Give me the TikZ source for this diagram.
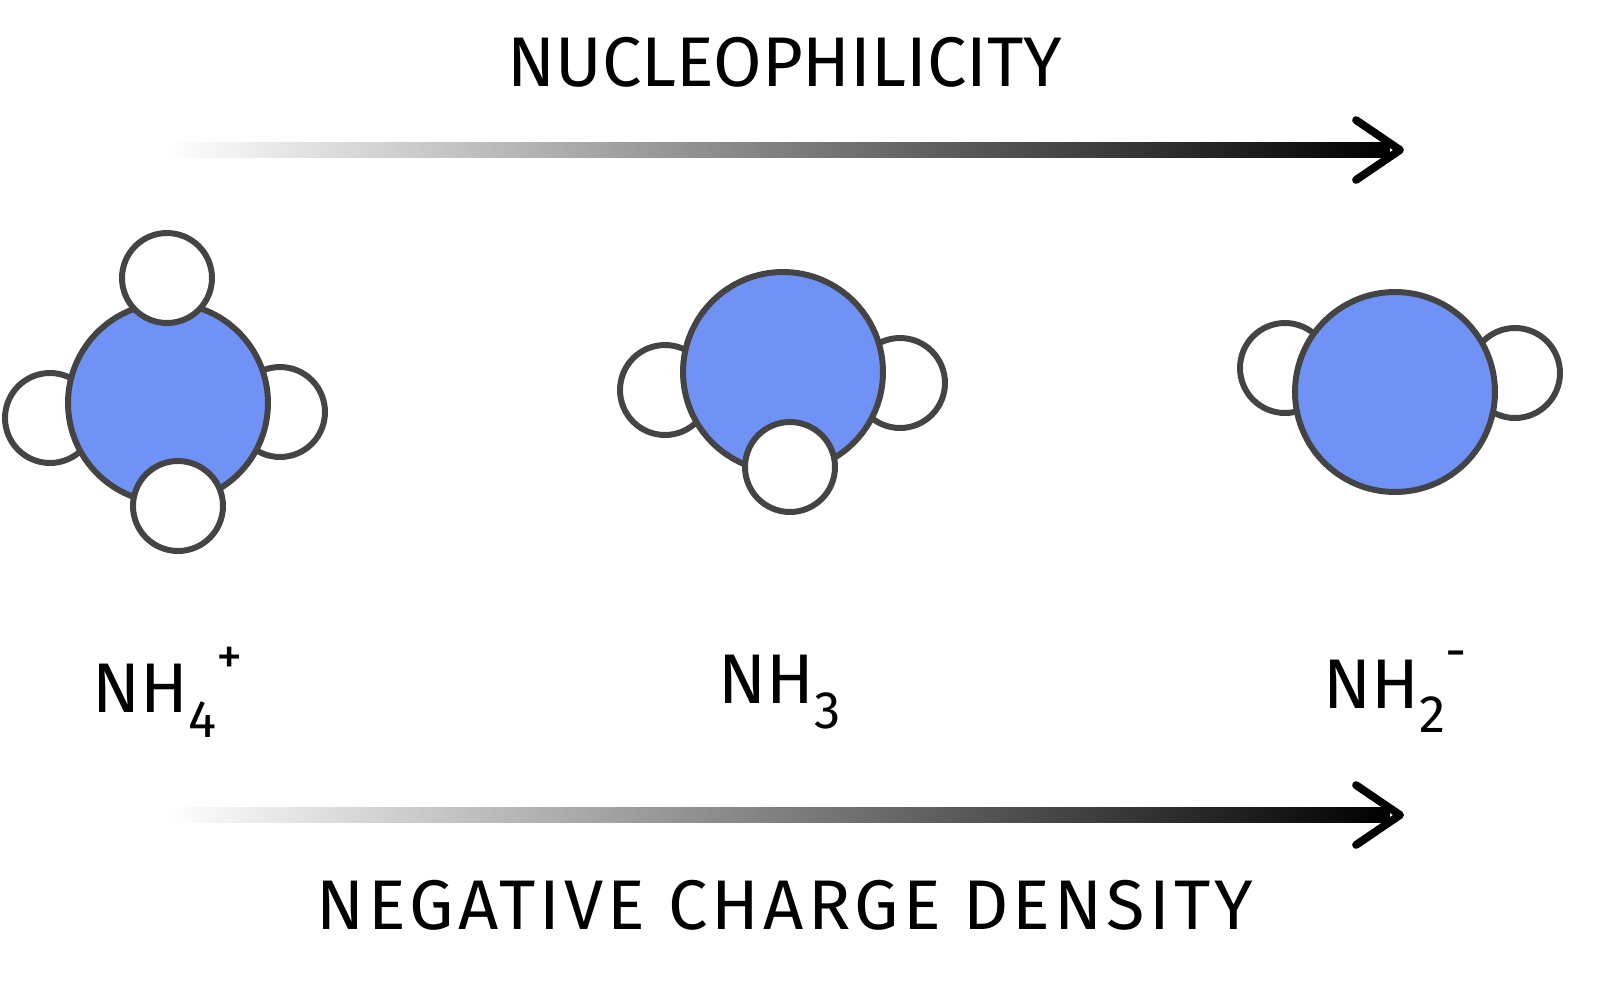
\documentclass[tikz,border=0pt]{standalone}
\usepackage{fontspec}
\setmainfont{Fira Sans}
\usetikzlibrary{positioning}
\definecolor{nblue}{HTML}{7092F5}
\definecolor{edge}{HTML}{444444}
\newcommand{\subsup}[2]{\raisebox{-0.35em}{\fontsize{30}{32}\selectfont #1}\raisebox{0.55em}{\fontsize{30}{32}\selectfont #2}}
\tikzset{
  atomN/.style={circle,draw=edge,line width=3.4pt,fill=nblue,minimum size=4cm,inner sep=0pt},
  atomH/.style={circle,draw=edge,line width=3.4pt,fill=white,minimum size=1.8cm,inner sep=0pt},
  caption/.style={font=\fontsize{40}{44}\selectfont},
  formula/.style={font=\fontsize{40}{44}\selectfont},
  tip/.style={line width=4.5pt,line cap=round,line join=round}
}
\begin{document}
\begin{tikzpicture}[x=0.02cm,y=-0.02cm]
  % top arrow
  \node[caption] (nuc) at (785,62) {NUCLEOPHILICITY};
  \coordinate (a1) at (165,150);
  \coordinate (a2) at (1400,150);
  \shade[left color=white,right color=black] ([yshift=4.5]a1) rectangle ([xshift=-6,yshift=-4.5]a2);
  \draw[tip] ([xshift=-25,yshift=-17]a2) -- (a2) -- ([xshift=-25,yshift=17]a2);
  % NH4+
  \node[atomH] (h1l) at (50,418) {};
  \node[atomH] (h1r) at (280,412) {};
  \node[atomN] (n1) at (168,403) {};
  \node[atomH] (h1t) at (167,278) {};
  \node[atomH] (h1b) at (178,506) {};
  % NH3
  \node[atomH] (h2l) at (665,390) {};
  \node[atomH] (h2r) at (900,383) {};
  \node[atomN] (n2) at (783,372) {};
  \node[atomH] (h2b) at (790,467) {};
  % NH2-
  \node[atomH] (h3l) at (1285,368) {};
  \node[atomH] (h3r) at (1515,373) {};
  \node[atomN] (n3) at (1395,392) {};
  % formulas
  \node[formula] (f1) at (168,692) {NH\subsup{4}{+}};
  \node[formula] (f2) at (780,692) {NH\subsup{3}{}};
  \node[formula] (f3) at (1395,692) {NH\subsup{2}{-}};
  % bottom arrow
  \coordinate (b1) at (165,815);
  \coordinate (b2) at (1400,815);
  \shade[left color=white,right color=black] ([yshift=4.5]b1) rectangle ([xshift=-6,yshift=-4.5]b2);
  \draw[tip] ([xshift=-25,yshift=-17]b2) -- (b2) -- ([xshift=-25,yshift=17]b2);
  \node[caption] (neg) at (785,905) {\addfontfeature{LetterSpace=6}NEGATIVE CHARGE DENSITY};
  \pgfresetboundingbox
  \useasboundingbox (0,0) rectangle (1600,988);
\end{tikzpicture}
\end{document}
